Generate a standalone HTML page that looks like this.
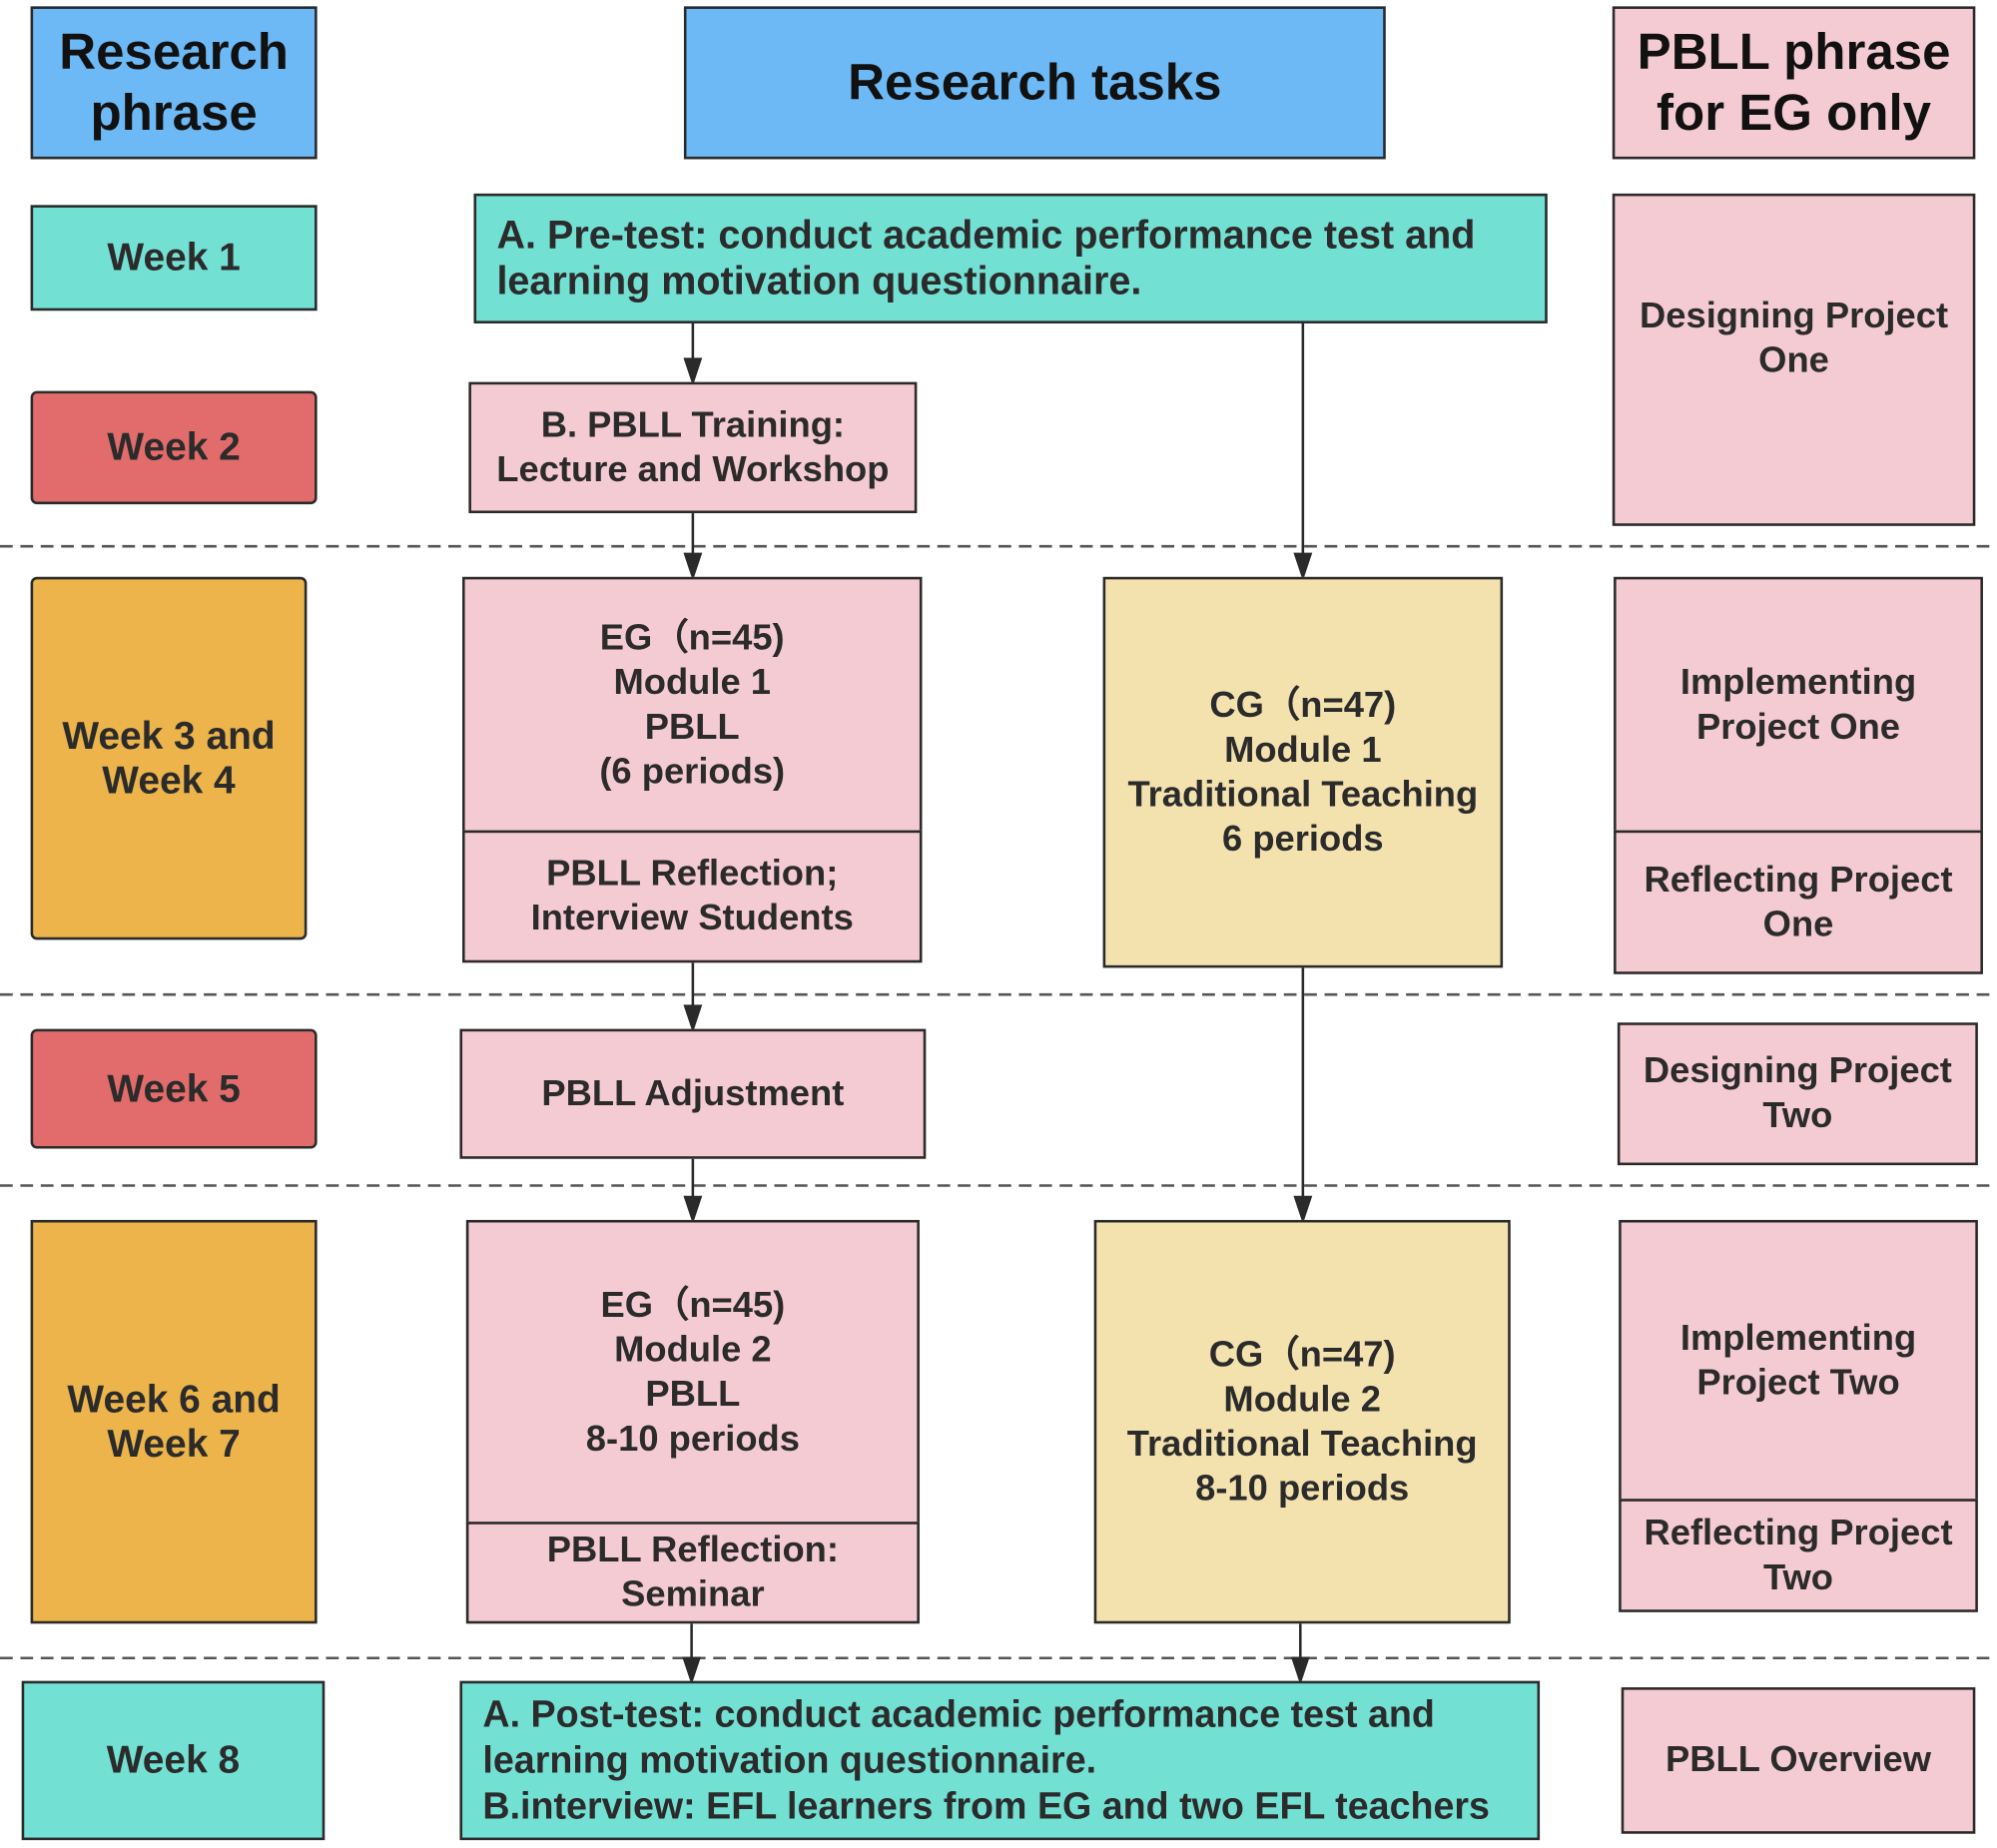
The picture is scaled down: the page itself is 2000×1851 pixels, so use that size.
<!DOCTYPE html>
<html><head><meta charset="utf-8"><style>
html,body{margin:0;padding:0;background:#fff;width:2000px;height:1851px;overflow:hidden}
#c{position:absolute;left:0;top:0;width:1568px;height:1451px;transform:scale(1.27551);transform-origin:0 0;font-family:"Liberation Sans",sans-serif;font-weight:bold;color:#2b2b2b}
.b{position:absolute;box-sizing:border-box;border:2.5px solid #2a2a2a;display:flex;align-items:center;justify-content:center;text-align:center;font-size:28.5px;line-height:35px;white-space:nowrap}
.h{font-size:40px;line-height:48px;color:#111}
.w{font-size:30.5px}
.bl{background:#6db9f6}.te{background:#73e0d4}.re{background:#e26b6b;border-radius:5px}.or{background:#ecb44a;border-radius:5px}.pk{background:#f5cbd3}.ye{background:#f3e2ae}
.l{justify-content:flex-start;text-align:left;padding-left:16px;font-size:31px;line-height:36px}
</style></head><body><div id="c">
<svg width="1568" height="1451" style="position:absolute;left:0;top:0">
<g stroke="#555" stroke-width="2" stroke-dasharray="10,6">
<line x1="0" y1="429" x2="1568" y2="429"/><line x1="0" y1="781" x2="1568" y2="781"/><line x1="0" y1="931" x2="1568" y2="931"/><line x1="0" y1="1302" x2="1568" y2="1302"/></g>
<g stroke="#2a2a2a" stroke-width="2" fill="#2a2a2a">
<line x1="544" y1="254" x2="544" y2="286"/><path d="M538,282 L550,282 L544,300 z"/>
<line x1="544" y1="403" x2="544" y2="439"/><path d="M538,435 L550,435 L544,453 z"/>
<line x1="544" y1="756" x2="544" y2="794"/><path d="M538,790 L550,790 L544,808 z"/>
<line x1="544" y1="910" x2="544" y2="944"/><path d="M538,940 L550,940 L544,958 z"/>
<line x1="543" y1="1275" x2="543" y2="1306"/><path d="M537,1302 L549,1302 L543,1320 z"/>
<line x1="1023" y1="254" x2="1023" y2="439"/><path d="M1017,435 L1029,435 L1023,453 z"/>
<line x1="1023" y1="760" x2="1023" y2="944"/><path d="M1017,940 L1029,940 L1023,958 z"/>
<line x1="1021" y1="1275" x2="1021" y2="1306"/><path d="M1015,1302 L1027,1302 L1021,1320 z"/>
</g></svg>
<div class="b bl h" style="left:24px;top:5px;width:225px;height:120px">Research<br>phrase</div>
<div class="b bl h" style="left:537px;top:5px;width:551px;height:120px">Research tasks</div>
<div class="b pk h" style="left:1266px;top:5px;width:285px;height:120px">PBLL phrase<br>for EG only</div>
<div class="b te w" style="left:24px;top:161px;width:225px;height:83px">Week 1</div>
<div class="b te l" style="left:372px;top:152px;width:843px;height:102px">A. Pre-test: conduct academic performance test and<br>learning motivation questionnaire.</div>
<div class="b pk" style="left:1266px;top:152px;width:285px;height:261px;padding-bottom:34px">Designing Project<br>One</div>
<div class="b re w" style="left:24px;top:307px;width:225px;height:89px">Week 2</div>
<div class="b pk" style="left:368px;top:300px;width:352px;height:103px">B. PBLL Training:<br>Lecture and Workshop</div>
<div class="b or w" style="left:24px;top:453px;width:217px;height:285px">Week 3 and<br>Week 4</div>
<div class="b pk" style="left:363px;top:453px;width:361px;height:201px">EG（n=45)<br>Module 1<br>PBLL<br>(6 periods)</div>
<div class="b pk" style="left:363px;top:652px;width:361px;height:104px">PBLL Reflection;<br>Interview Students</div>
<div class="b ye" style="left:866px;top:453px;width:314px;height:307px">CG（n=47)<br>Module 1<br>Traditional Teaching<br>6 periods</div>
<div class="b pk" style="left:1267px;top:453px;width:290px;height:201px">Implementing<br>Project One</div>
<div class="b pk" style="left:1267px;top:652px;width:290px;height:113px">Reflecting Project<br>One</div>
<div class="b re w" style="left:24px;top:808px;width:225px;height:94px">Week 5</div>
<div class="b pk" style="left:361px;top:808px;width:366px;height:102px">PBLL Adjustment</div>
<div class="b pk" style="left:1270px;top:803px;width:283px;height:112px">Designing Project<br>Two</div>
<div class="b or w" style="left:24px;top:958px;width:225px;height:317px;border-radius:0">Week 6 and<br>Week 7</div>
<div class="b pk" style="left:366px;top:958px;width:356px;height:239px">EG（n=45)<br>Module 2<br>PBLL<br>8-10 periods</div>
<div class="b pk" style="left:366px;top:1195px;width:356px;height:80px">PBLL Reflection:<br>Seminar</div>
<div class="b ye" style="left:859px;top:958px;width:327px;height:317px">CG（n=47)<br>Module 2<br>Traditional Teaching<br>8-10 periods</div>
<div class="b pk" style="left:1271px;top:958px;width:282px;height:221px">Implementing<br>Project Two</div>
<div class="b pk" style="left:1271px;top:1177px;width:282px;height:89px">Reflecting Project<br>Two</div>
<div class="b te w" style="left:17px;top:1320px;width:238px;height:125px">Week 8</div>
<div class="b te l" style="left:361px;top:1320px;width:848px;height:125px;font-size:29.5px;padding-left:16px">A. Post-test: conduct academic performance test and<br>learning motivation questionnaire.<br>B.interview: EFL learners from EG and two EFL teachers</div>
<div class="b pk" style="left:1273px;top:1325px;width:278px;height:115px">PBLL Overview</div>
</div></body></html>
